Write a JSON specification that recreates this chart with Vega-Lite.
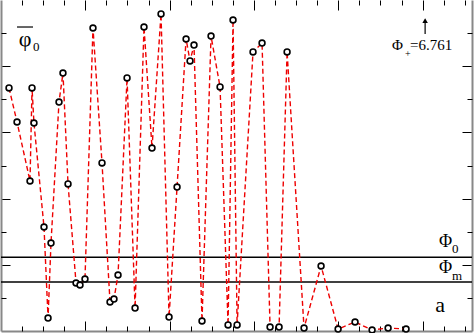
{
  "$schema": "https://vega.github.io/schema/vega-lite/v6.json",
  "width": 471,
  "height": 331,
  "autosize": {"type": "none"},
  "padding": {"left": 1, "top": 0, "right": 2, "bottom": 2},
  "background": "white",
  "config": {"view": {"stroke": null}},
  "datasets": {
    "pts": [
      {"x": 0.095, "y": 3.671}, {"x": 0.19, "y": 3.157}, {"x": 0.344, "y": 2.266}, {"x": 0.368, "y": 3.671},
      {"x": 0.391, "y": 3.142}, {"x": 0.51, "y": 1.571}, {"x": 0.558, "y": 0.196}, {"x": 0.593, "y": 1.329},
      {"x": 0.688, "y": 3.459}, {"x": 0.735, "y": 3.897}, {"x": 0.795, "y": 2.221}, {"x": 0.89, "y": 0.725},
      {"x": 0.937, "y": 0.695}, {"x": 0.996, "y": 0.785}, {"x": 1.091, "y": 4.577}, {"x": 1.198, "y": 2.538},
      {"x": 1.293, "y": 0.438}, {"x": 1.34, "y": 0.483}, {"x": 1.388, "y": 0.846}, {"x": 1.495, "y": 3.822},
      {"x": 1.59, "y": 0.347}, {"x": 1.696, "y": 4.592}, {"x": 1.791, "y": 2.764}, {"x": 1.898, "y": 4.789},
      {"x": 1.993, "y": 0.211}, {"x": 2.088, "y": 2.175}, {"x": 2.195, "y": 4.411}, {"x": 2.242, "y": 4.079},
      {"x": 2.289, "y": 4.32}, {"x": 2.384, "y": 0.151}, {"x": 2.491, "y": 4.456}, {"x": 2.598, "y": 3.686},
      {"x": 2.693, "y": 0.091}, {"x": 2.752, "y": 4.698}, {"x": 2.8, "y": 0.091}, {"x": 2.989, "y": 4.215},
      {"x": 3.096, "y": 4.35}, {"x": 3.191, "y": 0.06}, {"x": 3.298, "y": 0.06}, {"x": 3.393, "y": 4.215},
      {"x": 3.594, "y": 0.045}, {"x": 3.796, "y": 0.982}, {"x": 3.998, "y": 0.03}, {"x": 4.199, "y": 0.136},
      {"x": 4.401, "y": 0.015}, {"x": 4.591, "y": 0.045}, {"x": 4.804, "y": 0.03}
    ],
    "levels": [{"name": "Φ0", "y": 1.113}, {"name": "Φm", "y": 0.74}],
    "labels": [
      {"role": "big", "text": "φ", "x": 0.285, "y": 4.305, "align": "center"},
      {"role": "big", "text": "a", "x": 5.208, "y": 0.287, "align": "left"},
      {"role": "mid", "text": "Φ", "x": 5.196, "y": 1.269, "align": "left"},
      {"role": "mid", "text": "Φ", "x": 5.196, "y": 0.876, "align": "left"},
      {"role": "small", "text": "Φ", "x": 4.638, "y": 4.245, "align": "left"},
      {"role": "small", "text": "=6.761", "x": 4.852, "y": 4.245, "align": "left"},
      {"role": "sub", "text": "0", "x": 0.38, "y": 4.23, "align": "left"},
      {"role": "sub", "text": "0", "x": 5.35, "y": 1.178, "align": "left"},
      {"role": "sub", "text": "m", "x": 5.35, "y": 0.77, "align": "left"},
      {"role": "tiny", "text": "+", "x": 4.792, "y": 4.139, "align": "left"}
    ],
    "segs": [
      {"x": 0.19, "x2": 0.38, "y": 4.592, "y2": 4.592},
      {"x": 5.03, "x2": 5.03, "y": 4.7, "y2": 4.486}
    ],
    "heads": [{"x": 5.03, "y": 4.69}]
  },
  "resolve": {"axis": {"x": "independent", "y": "independent"}},
  "layer": [
    {
      "data": {"name": "levels"},
      "mark": {"type": "rule", "color": "black", "strokeWidth": 1.5},
      "encoding": {
        "y": {"field": "y", "type": "quantitative", "scale": {"domain": [0, 5], "nice": false, "zero": false}, "axis": null}
      }
    },
    {
      "data": {"name": "pts"},
      "mark": {"type": "line", "color": "#ee0000", "strokeWidth": 1.4, "strokeDash": [5, 3]},
      "encoding": {
        "x": {"field": "x", "type": "quantitative", "scale": {"domain": [0, 5.586], "nice": false, "zero": false},
          "axis": {"orient": "bottom", "values": [1, 2, 3, 4, 5], "tickSize": -10, "tickColor": "black", "tickWidth": 1, "labels": false, "grid": false, "title": null, "domain": true, "domainColor": "#888", "domainWidth": 2}},
        "y": {"field": "y", "type": "quantitative", "scale": {"domain": [0, 5], "nice": false, "zero": false},
          "axis": {"orient": "left", "values": [1, 2, 3, 4], "tickSize": -9, "tickColor": "black", "tickWidth": 1, "labels": false, "grid": false, "title": null, "domain": true, "domainColor": "#888", "domainWidth": 2}}
      }
    },
    {
      "data": {"name": "pts"},
      "mark": {"type": "point", "shape": "circle", "size": 34, "filled": false, "fill": "white", "fillOpacity": 1, "stroke": "black", "strokeWidth": 1.6, "opacity": 1},
      "encoding": {
        "x": {"field": "x", "type": "quantitative", "scale": {"domain": [0, 5.586], "nice": false, "zero": false},
          "axis": {"orient": "top", "values": [1, 2, 3, 4, 5], "tickSize": -10, "tickColor": "black", "tickWidth": 1, "labels": false, "grid": false, "title": null, "domain": false}},
        "y": {"field": "y", "type": "quantitative", "scale": {"domain": [0, 5], "nice": false, "zero": false},
          "axis": {"orient": "right", "values": [1, 2, 3, 4], "tickSize": -10, "tickColor": "black", "tickWidth": 1, "labels": false, "grid": false, "title": null, "domain": true, "domainColor": "#888", "domainWidth": 2}}
      }
    },
    {
      "data": {"name": "labels"},
      "transform": [{"filter": "datum.role === 'big'"}],
      "mark": {"type": "text", "font": "Liberation Serif", "fontSize": 22, "baseline": "alphabetic", "color": "black"},
      "encoding": {
        "x": {"field": "x", "type": "quantitative", "scale": {"domain": [0, 5.586], "nice": false, "zero": false},
          "axis": {"orient": "bottom", "values": [0.25, 0.5, 0.75, 1.25, 1.5, 1.75, 2.25, 2.5, 2.75, 3.25, 3.5, 3.75, 4.25, 4.5, 4.75, 5.25, 5.5], "tickSize": -5, "tickColor": "black", "tickWidth": 1, "labels": false, "grid": false, "title": null, "domain": false}},
        "y": {"field": "y", "type": "quantitative", "scale": {"domain": [0, 5], "nice": false, "zero": false},
          "axis": {"orient": "left", "values": [0.5, 1.5, 2.5, 3.5, 4.5], "tickSize": -5, "tickColor": "black", "tickWidth": 1, "labels": false, "grid": false, "title": null, "domain": false}},
        "text": {"field": "text"},
        "align": {"field": "align"}
      }
    },
    {
      "data": {"name": "labels"},
      "transform": [{"filter": "datum.role === 'mid'"}],
      "mark": {"type": "text", "font": "Liberation Serif", "fontSize": 18, "baseline": "alphabetic", "align": "left", "color": "black"},
      "encoding": {
        "x": {"field": "x", "type": "quantitative", "scale": {"domain": [0, 5.586], "nice": false, "zero": false},
          "axis": {"orient": "top", "values": [0.25, 0.5, 0.75, 1.25, 1.5, 1.75, 2.25, 2.5, 2.75, 3.25, 3.5, 3.75, 4.25, 4.5, 4.75, 5.25, 5.5], "tickSize": -5, "tickColor": "black", "tickWidth": 1, "labels": false, "grid": false, "title": null, "domain": false}},
        "y": {"field": "y", "type": "quantitative", "scale": {"domain": [0, 5], "nice": false, "zero": false},
          "axis": {"orient": "right", "values": [0.5, 1.5, 2.5, 3.5, 4.5], "tickSize": -5, "tickColor": "black", "tickWidth": 1, "labels": false, "grid": false, "title": null, "domain": false}},
        "text": {"field": "text"}
      }
    },
    {
      "data": {"name": "labels"},
      "transform": [{"filter": "datum.role === 'small'"}],
      "mark": {"type": "text", "font": "Liberation Serif", "fontSize": 15, "baseline": "alphabetic", "align": "left", "color": "black"},
      "encoding": {
        "x": {"field": "x", "type": "quantitative", "scale": {"domain": [0, 5.586], "nice": false, "zero": false}, "axis": null},
        "y": {"field": "y", "type": "quantitative", "scale": {"domain": [0, 5], "nice": false, "zero": false}, "axis": null},
        "text": {"field": "text"}
      }
    },
    {
      "data": {"name": "labels"},
      "transform": [{"filter": "datum.role === 'sub'"}],
      "mark": {"type": "text", "font": "Liberation Serif", "fontSize": 13, "baseline": "alphabetic", "align": "left", "color": "black"},
      "encoding": {
        "x": {"field": "x", "type": "quantitative", "scale": {"domain": [0, 5.586], "nice": false, "zero": false}, "axis": null},
        "y": {"field": "y", "type": "quantitative", "scale": {"domain": [0, 5], "nice": false, "zero": false}, "axis": null},
        "text": {"field": "text"}
      }
    },
    {
      "data": {"name": "labels"},
      "transform": [{"filter": "datum.role === 'tiny'"}],
      "mark": {"type": "text", "font": "Liberation Serif", "fontSize": 10, "baseline": "alphabetic", "align": "left", "color": "black"},
      "encoding": {
        "x": {"field": "x", "type": "quantitative", "scale": {"domain": [0, 5.586], "nice": false, "zero": false}, "axis": null},
        "y": {"field": "y", "type": "quantitative", "scale": {"domain": [0, 5], "nice": false, "zero": false}, "axis": null},
        "text": {"field": "text"}
      }
    },
    {
      "data": {"name": "segs"},
      "mark": {"type": "rule", "color": "black", "strokeWidth": 1.2},
      "encoding": {
        "x": {"field": "x", "type": "quantitative", "scale": {"domain": [0, 5.586], "nice": false, "zero": false}, "axis": null},
        "x2": {"field": "x2"},
        "y": {"field": "y", "type": "quantitative", "scale": {"domain": [0, 5], "nice": false, "zero": false}, "axis": null},
        "y2": {"field": "y2"}
      }
    },
    {
      "data": {"name": "heads"},
      "mark": {"type": "point", "shape": "triangle-up", "size": 30, "filled": true, "color": "black", "opacity": 1},
      "encoding": {
        "x": {"field": "x", "type": "quantitative", "scale": {"domain": [0, 5.586], "nice": false, "zero": false}, "axis": null},
        "y": {"field": "y", "type": "quantitative", "scale": {"domain": [0, 5], "nice": false, "zero": false}, "axis": null}
      }
    }
  ]
}
